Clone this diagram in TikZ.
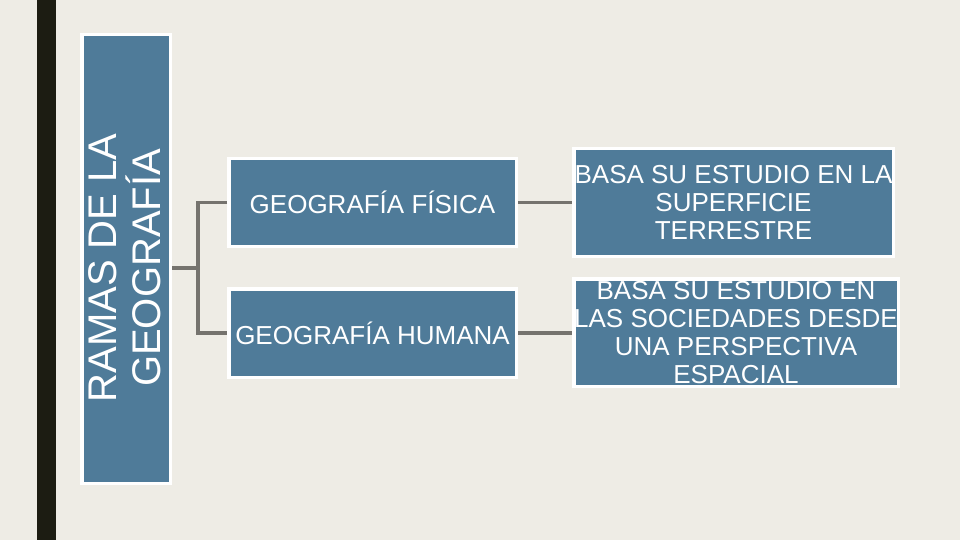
\documentclass[tikz,border=0pt]{standalone}
\usepackage{fontspec}
\setmainfont{Liberation Sans}
\definecolor{bg}{RGB}{238,236,229}
\definecolor{barc}{RGB}{28,28,18}
\definecolor{boxblue}{RGB}{79,123,153}
\definecolor{linkc}{RGB}{117,115,110}
\tikzset{
  bluebox/.style={draw=white, line width=3.5pt, fill=boxblue, text=white, align=center, inner sep=0pt},
  link/.style={draw=linkc, line width=3.5pt},
  smalltxt/.style={font=\fontsize{26}{28.3}\selectfont},
}
\begin{document}
\begin{tikzpicture}[x=1pt,y=-1pt]
\useasboundingbox (0,0) rectangle (960,540);
\fill[bg] (0,0) rectangle (960,540);
\fill[barc] (37,0) rectangle (56,540);
% left box
\node[bluebox, minimum width=88.5pt, minimum height=448.5pt] (L) at (126,259) {};
\node[text=white, rotate=90, align=center, inner sep=0pt, font=\fontsize{40}{44}\selectfont] (Ltitle) at (125,268) {RAMAS DE LA\\GEOGRAFÍA};
% middle boxes
\node[bluebox, smalltxt, minimum width=287.5pt, minimum height=87.5pt] (M1) at (372.5,202.5) {GEOGRAFÍA FÍSICA};
\node[bluebox, smalltxt, minimum width=287.5pt, minimum height=88.5pt] (M2) at (372.5,333) {GEOGRAFÍA HUMANA};
% right boxes
\node[bluebox, smalltxt, minimum width=319.5pt, minimum height=107.5pt] (R1) at (733.5,202.5) {BASA SU ESTUDIO EN LA\\SUPERFICIE\\TERRESTRE};
\node[bluebox, smalltxt, minimum width=324.5pt, minimum height=107.5pt] (R2) at (736,332.5) {BASA SU ESTUDIO EN\\LAS SOCIEDADES DESDE\\UNA PERSPECTIVA\\ESPACIAL};
% connectors
\coordinate (J) at (198,267.75);
\draw[link] (L.east |- J) -- (J);
\draw[link] (M1.west) -| (J) |- (M2.west);
\draw[link] (M1.east) -- (R1.west);
\draw[link] (M2.east) -- (M2.east -| R2.west);
\end{tikzpicture}
\end{document}
